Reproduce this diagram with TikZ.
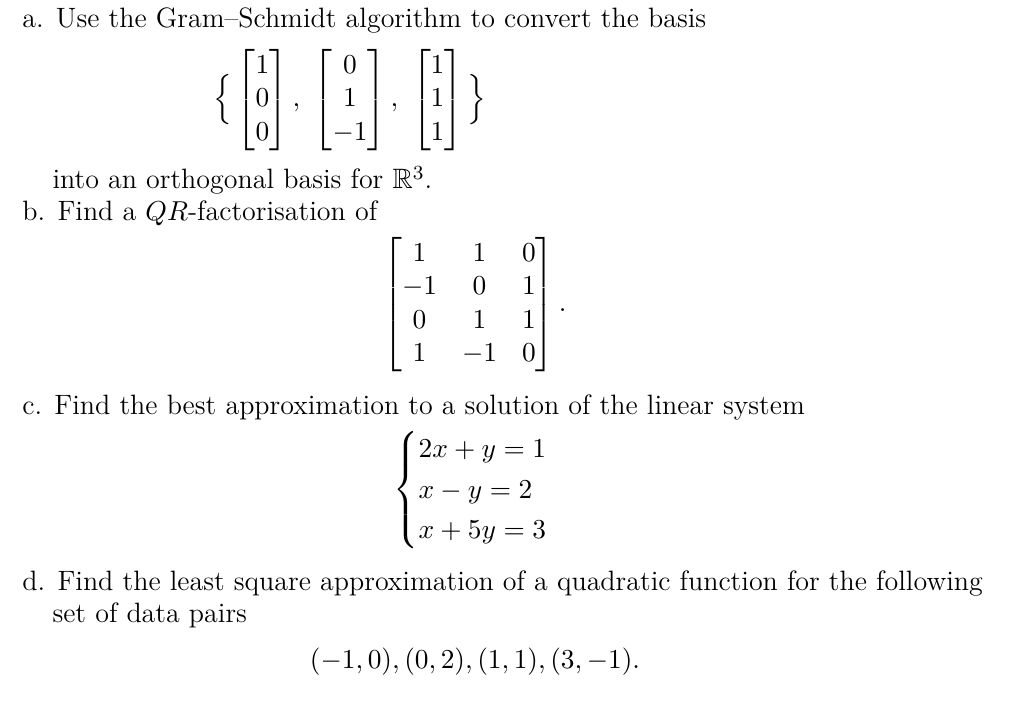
\documentclass[tikz,border=0pt]{standalone}
\usepackage{amsmath,amssymb}
\begin{document}
\begin{tikzpicture}[x=0.4pt,y=-0.4pt,txt/.style={anchor=base west,inner sep=0pt},
 every node/.append style={font=\fontsize{11.2}{13.4}\selectfont}]
\useasboundingbox (0,0) rectangle (1024,704);
\node[txt] (a) at (22,28) {a. Use the Gram--Schmidt algorithm to convert the basis};
\node (va) at (350,100) {$\Big\{\begin{bmatrix}1\\0\\0\end{bmatrix},\ \begin{bmatrix}0\\1\\-1\end{bmatrix},\ \begin{bmatrix}1\\1\\1\end{bmatrix}\Big\}$};
\node[txt] (a2) at (52,189) {into an orthogonal basis for $\mathbb{R}^3$.};
\node[txt] (b) at (22,221) {b. Find a $QR$-factorisation of};
\node (mb) at (475,305) {$\begin{bmatrix}1&1&0\\-1&0&1\\0&1&1\\1&-1&0\end{bmatrix}.$};
\node[txt] (c) at (22,415) {c. Find the best approximation to a solution of the linear system};
\node[anchor=west] (sc) at (385,490) {$\begin{cases}2x+y=1\\ x-y=2\\ x+5y=3\end{cases}$};
\node[txt] (d) at (22,590) {d. Find the least square approximation of a quadratic function for the following};
\node[txt] (d2) at (52,622) {set of data pairs};
\node (pts) at (475,662) {$(-1,0),(0,2),(1,1),(3,-1).$};
\end{tikzpicture}
\end{document}
